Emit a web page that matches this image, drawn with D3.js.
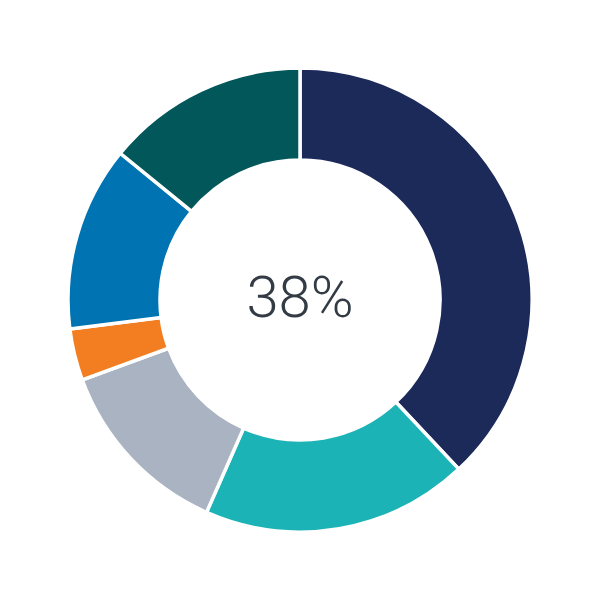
<!DOCTYPE html>
<html>
<head>
<meta charset="utf-8">
<script src="https://cdn.jsdelivr.net/npm/d3@7"></script>
<style>
  body { margin: 0; background: #fff; }
</style>
</head>
<body>
<div id="chart"></div>
<script>
// slice data, clockwise from 12 o'clock
var categories = ["A", "B", "C", "D", "E", "F"];
var values = [38, 18.6, 12.8, 3.6, 12.9, 14.1];
var colors = ["#1c2a5a", "#1bb3b5", "#a9b3c1", "#f37e21", "#0073b2", "#02575a"];
var centerLabel = "38%";

var w = 600, h = 600;
var outerR = 232, innerR = 140;

var svg = d3.select("#chart")
            .append("svg")
            .attr("width", w)
            .attr("height", h);

var g = svg.append("g")
           .attr("transform", `translate(${w/2},${h/2})`);

var pie = d3.pie()
            .sort(null)
            .value(function(d){ return d; });

var arc = d3.arc()
            .innerRadius(innerR)
            .outerRadius(outerR);

g.selectAll("path.slice")
  .data(pie(values))
  .enter()
  .append("path")
    .attr("class", "slice")
    .attr("d", arc)
    .attr("fill", function(d, i){ return colors[i]; })
    .attr("stroke", "#fff")
    .attr("stroke-width", 3.5);

g.append("text")
  .attr("text-anchor", "middle")
  .attr("y", 17)
  .attr("font-family", "Roboto, 'Liberation Sans', sans-serif")
  .attr("font-weight", 300)
  .attr("font-size", 58)
  .attr("fill", "#333b45")
  .text(centerLabel);
</script>
</body>
</html>
